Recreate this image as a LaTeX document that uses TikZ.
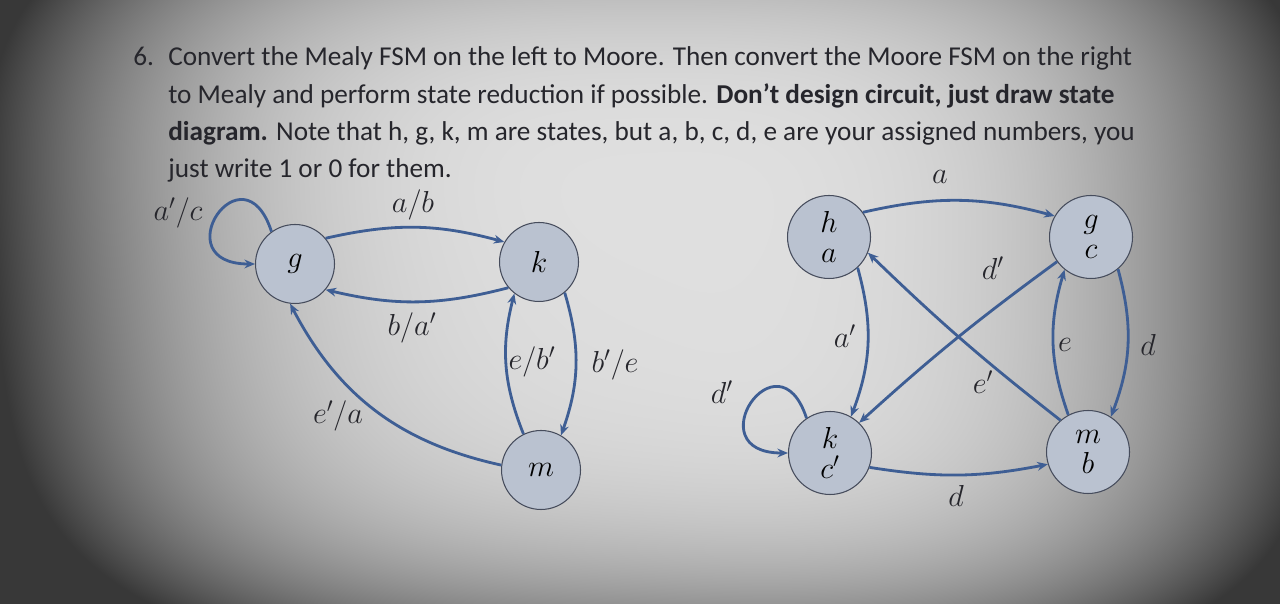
\documentclass[tikz,border=0pt]{standalone}
\usepackage{fontspec}
\setmainfont{Carlito}
\usepackage{tikz}
\usetikzlibrary{arrows.meta, positioning}
\definecolor{statefill}{RGB}{186,194,208}
\definecolor{stateline}{RGB}{70,76,92}
\definecolor{edgeblue}{RGB}{62,94,148}
\definecolor{textdark}{RGB}{38,38,44}
% photo-like page lighting: bright centre, dark edges
\pgfdeclarefunctionalshading{vignette}{\pgfpoint{-50bp}{-50bp}}{\pgfpoint{50bp}{50bp}}{}{
  25 div exch 25 div exch
  2 copy
  1 exch sub 2 div exch 1 exch sub 2 div mul dup mul 0.15 mul
  3 1 roll
  0.09 sub abs 4 exp 0.19 mul
  exch 0.0156 sub abs 3 exp 0.582 mul
  add add 0.88 exch sub
  dup 0.22 lt {pop 0.22} if
  dup dup
}
\tikzset{
  state/.style={circle, draw=stateline, fill=statefill, line width=0.6pt,
    minimum size=1.58cm, inner sep=0pt, font=\fontsize{17}{19}\selectfont},
  moorestate/.style={state, minimum size=1.66cm, align=center,
    font=\fontsize{17}{17}\selectfont},
  arrow/.style={-{Stealth[length=6pt,width=5pt]}, line width=1.6pt, color=edgeblue},
  lbl/.style={font=\fontsize{18}{20}\selectfont, color=textdark},
  para/.style={anchor=base west, inner sep=0pt, color=textdark,
    font=\fontsize{15.5}{18}\selectfont}
}

\begin{document}
\begin{tikzpicture}[x=0.02cm, y=0.02cm]
  % page background
  \useasboundingbox (0,0) rectangle (1280,604);
  \shade[shading=vignette] (0,0) rectangle (1280,604);

  % question text
  \node[para] (num) at (133,538) {6.};
  \node[para] (ln1) at (168,538) {Convert the Mealy FSM on the left to Moore. Then convert the Moore FSM on the right};
  \node[para] (ln2) at (168,500) {to Mealy and perform state reduction if possible. \textbf{Don’t design circuit, just draw state}};
  \node[para] (ln3) at (168,463) {\textbf{diagram.} Note that h, g, k, m are states, but a, b, c, d, e are your assigned numbers, you};
  \node[para] (ln4) at (168,426) {just write 1 or 0 for them.};

  % Mealy machine
  \node[state] (g) at (295,340) {$g$};
  \node[state] (k) at (539,342) {$k$};
  \node[state] (m) at (541,134) {$m$};
  \draw[arrow] (g.126) to[out=108, in=180, looseness=6.5] (g.180);
  \draw[arrow] (g.40) to[bend left=14] (k.150);
  \draw[arrow] (k.220) to[bend left=14] (g.-40);
  \draw[arrow] (k.-50) to[bend left=18] (m.60);
  \draw[arrow] (m.116) to[bend left=18] (k.232);
  \draw[arrow] (m.173) to[bend left=25] (g.263);
  \node[lbl] (l1) at (178,391) {$a'/c$};
  \node[lbl] (l2) at (413,399) {$a/b$};
  \node[lbl] (l3) at (412,276) {$b/a'$};
  \node[lbl] (l4) at (532,242) {$e/b'$};
  \node[lbl] (l5) at (615,239) {$b'/e$};
  \node[lbl] (l6) at (338,188) {$e'/a$};

  % Moore machine
  \node[moorestate] (h2) at (829,367) {$h$\\$a$};
  \node[moorestate] (g2) at (1091,367) {$g$\\$c$};
  \node[moorestate] (k2) at (830,151) {$k$\\$c'$};
  \node[moorestate] (m2) at (1088,152) {$m$\\$b$};
  \draw[arrow] (h2.36) to[bend left=14] (g2.150);
  \draw[arrow] (h2.-47) to[bend left=18] (k2.60);
  \draw[arrow] (g2.216) to[bend right=3] (k2.46);
  \draw[arrow] (m2.131) to[bend left=3] (h2.-22);
  \draw[arrow] (m2.118) to[bend left=18] (g2.231);
  \draw[arrow] (g2.-50) to[bend left=18] (m2.57);
  \draw[arrow] (k2.-20) to[bend right=10] (m2.197);
  \draw[arrow] (k2.124) to[out=108, in=180, looseness=6] (k2.180);
  \node[lbl] (r1) at (940,427) {$a$};
  \node[lbl] (r2) at (845,268) {$a'$};
  \node[lbl] (r3) at (993,336) {$d'$};
  \node[lbl] (r4) at (983,222) {$e'$};
  \node[lbl] (r5) at (1065,259) {$e$};
  \node[lbl] (r6) at (1148,259) {$d$};
  \node[lbl] (r7) at (956,108) {$d$};
  \node[lbl] (r8) at (722,212) {$d'$};
\end{tikzpicture}
\end{document}
